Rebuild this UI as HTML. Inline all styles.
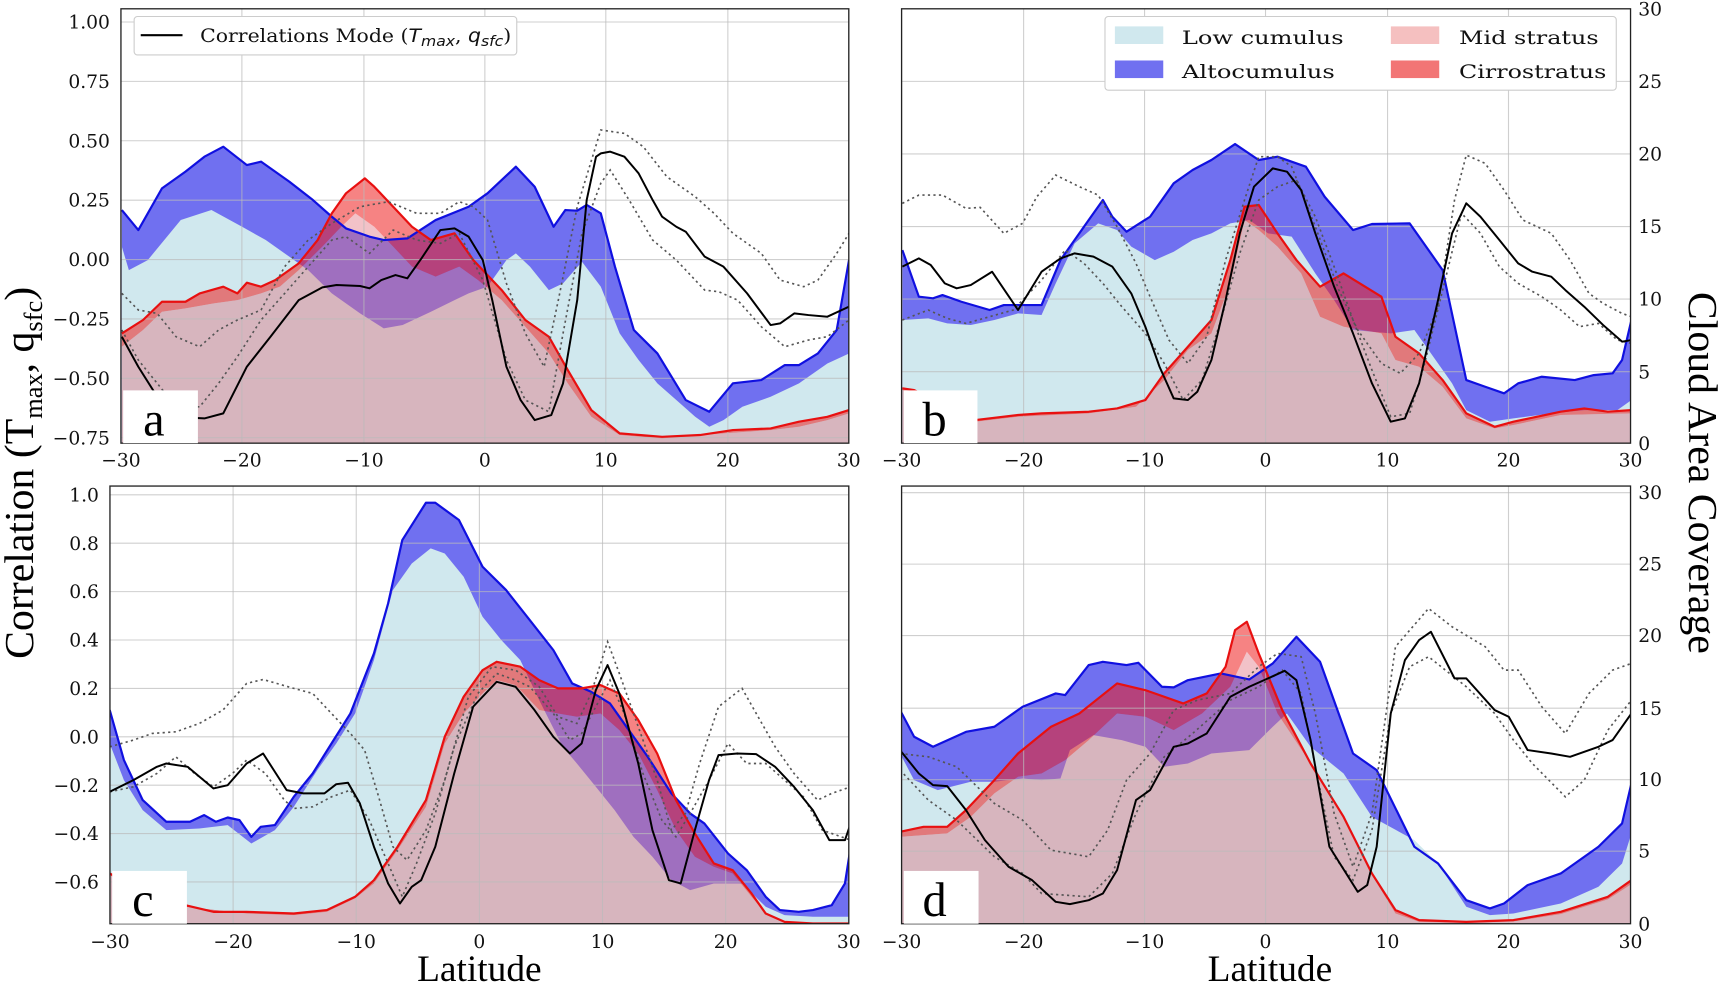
<!DOCTYPE html>
<html><head><meta charset="utf-8"><style>
html,body{margin:0;padding:0;background:#fff;}
svg{display:block;}
.t{font-family:"DejaVu Serif","Liberation Serif",serif;font-size:17px;fill:#111;}
.s{font-family:"Liberation Serif","DejaVu Serif",serif;fill:#000;}
</style></head><body>
<svg id="sv" width="1724" height="982" viewBox="0 0 1568 893" preserveAspectRatio="none" xmlns="http://www.w3.org/2000/svg">
<g id="plots"></g>
<g class="t" text-anchor="end">
<text x="100" y="26">1.00</text><text x="100" y="80">0.75</text><text x="100" y="134">0.50</text><text x="100" y="188">0.25</text><text x="100" y="242">0.00</text><text x="100" y="296">−0.25</text><text x="100" y="350">−0.50</text><text x="100" y="404">−0.75</text>
<text x="90" y="456">1.0</text><text x="90" y="500">0.8</text><text x="90" y="544">0.6</text><text x="90" y="588">0.4</text><text x="90" y="632">0.2</text><text x="90" y="676">0.0</text><text x="90" y="720">−0.2</text><text x="90" y="764">−0.4</text><text x="90" y="808">−0.6</text>
</g>
<g class="t" text-anchor="start">
<text x="1490" y="14">30</text><text x="1490" y="80">25</text><text x="1490" y="146">20</text><text x="1490" y="212">15</text><text x="1490" y="278">10</text><text x="1490" y="344">5</text><text x="1490" y="409">0</text>
<text x="1490" y="454">30</text><text x="1490" y="519">25</text><text x="1490" y="584">20</text><text x="1490" y="650">15</text><text x="1490" y="715">10</text><text x="1490" y="780">5</text><text x="1490" y="846">0</text>
</g>
<g class="t" text-anchor="middle">
<text x="110" y="424">−30</text><text x="220" y="424">−20</text><text x="331" y="424">−10</text><text x="441" y="424">0</text><text x="551" y="424">10</text><text x="662" y="424">20</text><text x="772" y="424">30</text>
<text x="820" y="424">−30</text><text x="931" y="424">−20</text><text x="1041" y="424">−10</text><text x="1151" y="424">0</text><text x="1262" y="424">10</text><text x="1372" y="424">20</text><text x="1483" y="424">30</text>
<text x="100" y="862">−30</text><text x="212" y="862">−20</text><text x="324" y="862">−10</text><text x="436" y="862">0</text><text x="548" y="862">10</text><text x="660" y="862">20</text><text x="772" y="862">30</text>
<text x="820" y="862">−30</text><text x="931" y="862">−20</text><text x="1041" y="862">−10</text><text x="1151" y="862">0</text><text x="1262" y="862">10</text><text x="1372" y="862">20</text><text x="1483" y="862">30</text>
</g>
<g class="s" font-size="44" text-anchor="middle">
<rect x="112" y="355" width="68" height="48" fill="#fff"/><text x="140" y="396">a</text>
<rect x="822" y="355" width="67" height="48" fill="#fff"/><text x="850" y="396">b</text>
<rect x="102" y="792" width="68" height="48" fill="#fff"/><text x="130" y="833">c</text>
<rect x="822" y="792" width="68" height="48" fill="#fff"/><text x="850" y="833">d</text>
</g>
<text class="s" font-size="34" text-anchor="middle" x="436" y="892">Latitude</text>
<text class="s" font-size="34" text-anchor="middle" x="1155" y="892">Latitude</text>
<text class="s" font-size="38" text-anchor="middle" transform="translate(30,430) rotate(-90)">Correlation (T<tspan font-size="24" dy="8">max</tspan><tspan dy="-8">, q</tspan><tspan font-size="24" dy="8">sfc</tspan><tspan dy="-8">)</tspan></text>
<text class="s" font-size="38" text-anchor="middle" transform="translate(1536,430) rotate(90)">Cloud Area Coverage</text>
<rect x="122" y="15" width="348" height="35" rx="3" fill="#fff" stroke="#ccc"/>
<line x1="128" y1="32" x2="166" y2="32" stroke="#000" stroke-width="2"/>
<text class="t" font-size="19" x="182" y="38" textLength="283" lengthAdjust="spacingAndGlyphs">Correlations Mode (<tspan font-style="italic" font-family="DejaVu Sans,sans-serif">T</tspan><tspan font-style="italic" font-size="13" dy="4" font-family="DejaVu Sans,sans-serif">max</tspan><tspan dy="-4">, </tspan><tspan font-style="italic" font-family="DejaVu Sans,sans-serif">q</tspan><tspan font-style="italic" font-size="13" dy="4" font-family="DejaVu Sans,sans-serif">sfc</tspan><tspan dy="-4">)</tspan></text>
<rect x="1005" y="15" width="465" height="67" rx="3" fill="#fff" stroke="#ccc"/>
<rect x="1014" y="24" width="44" height="16" fill="#d0e8ee"/>
<rect x="1014" y="55" width="44" height="16" fill="#7070f0"/>
<rect x="1265" y="24" width="44" height="16" fill="#f5c0c0"/>
<rect x="1265" y="55" width="44" height="16" fill="#f27575"/>
<g class="t" font-size="23"><text x="1075" y="40" textLength="147" lengthAdjust="spacingAndGlyphs">Low cumulus</text><text x="1075" y="71" textLength="139" lengthAdjust="spacingAndGlyphs">Altocumulus</text><text x="1327" y="40" textLength="127" lengthAdjust="spacingAndGlyphs">Mid stratus</text><text x="1327" y="71" textLength="134" lengthAdjust="spacingAndGlyphs">Cirrostratus</text></g>
</svg>
<script>
const panels=[
{cx:110,cy:0,x0:110,x1:772,y0:8,y1:403,vx:[110,220,331,441,551,662,772],hy:[20,74,128,182,236,290,344,398],
alto:"25:630 60:690 110:565 160:515 200:470 240:440 290:495 320:485 380:545 430:600 470:650 500:685 550:710 580:720 630:715 690:660 760:620 800:580 860:500 900:560 940:680 965:630 990:632 1010:615 1040:640 1070:800 1110:990 1160:1060 1220:1200 1270:1235 1320:1150 1380:1140 1430:1095 1460:1095 1500:1060 1540:990 1566:780",
low:"25:740 40:810 80:780 150:660 215:630 280:680 330:720 380:770 420:810 470:880 530:940 580:985 620:975 680:935 730:900 760:880 800:860 840:780 860:760 890:800 930:870 960:850 1000:785 1040:860 1080:1000 1120:1080 1160:1150 1200:1200 1240:1250 1270:1280 1300:1260 1340:1220 1400:1190 1460:1150 1520:1090 1566:1060",
cir:"25:1000 70:960 110:905 160:905 190:880 240:860 270:880 290:848 320:860 350:840 400:790 440:720 470:640 500:580 540:535 560:560 600:620 640:680 680:720 730:700 770:780 830:870 880:960 930:1010 970:1110 1020:1230 1080:1300 1170:1310 1250:1305 1320:1290 1400:1285 1460:1265 1520:1250 1566:1230",
mid:"25:1040 70:990 110:935 160:925 220:910 270:900 320:880 360:860 400:810 450:740 490:680 520:640 560:680 600:740 640:800 690:830 740:800 780:840 830:900 880:980 930:1060 970:1150 1020:1250 1080:1305 1170:1315 1300:1300 1400:1290 1460:1280 1520:1260 1566:1240",
sol:"25:1010 60:1100 100:1190 130:1250 200:1255 240:1240 290:1100 340:1010 400:900 450:862 480:855 530:858 550:865 575:840 605:825 630:835 660:775 700:690 730:685 760:710 790:780 810:900 840:1100 870:1200 900:1260 935:1245 960:1150 990:900 1010:600 1030:470 1040:460 1060:455 1090:470 1120:520 1150:600 1170:650 1200:680 1220:695 1260:770 1300:800 1350:880 1400:975 1420:970 1450:940 1480:945 1520:950 1566:920",
d1:"25:880 60:930 100:940 140:1010 190:1040 230:990 270:960 320:930 370:800 420:720 470:670 530:620 590:605 650:640 700:640 740:605 770:620 800:660 840:850 880:1000 920:1100 950:900 990:620 1040:390 1090:400 1130:440 1180:530 1240:590 1280:640 1320:700 1380:760 1420:840 1470:860 1500:840 1540:760 1566:700",
d2:"25:990 60:1080 100:1150 140:1220 190:1220 230:1150 270:1070 320:960 370:880 420:800 470:720 500:710 550:760 600:690 650:720 700:730 740:700 790:840 840:1080 880:1200 930:1235 960:1000 1000:700 1040:550 1060:510 1100:600 1150:720 1200:780 1260:870 1290:875 1330:900 1380:980 1430:1040 1480:1020 1520:1010 1566:960"},
{cx:900,cy:0,x0:820,x1:1483,y0:8,y1:403,vx:[820,931,1041,1151,1262,1372,1483],hy:[74,140,206,272,338],
alto:"5:750 40:890 70:895 90:885 130:905 190:930 220:915 300:915 340:780 400:660 430:600 450:650 480:695 530:650 580:550 620:510 660:480 710:432 760:480 800:470 860:500 900:590 960:690 1000:672 1080:670 1150:810 1200:1140 1240:1160 1280:1180 1310:1150 1360:1130 1430:1140 1470:1125 1510:1120 1530:1080 1550:960",
low:"5:960 60:955 100:970 150:975 200:960 250:940 300:945 330:850 370:730 420:670 460:690 490:740 540:780 580:755 620:720 660:700 700:670 740:660 780:700 830:710 880:820 920:900 960:990 1040:1000 1090:990 1120:1050 1170:1150 1200:1230 1250:1265 1300:1255 1380:1240 1450:1230 1520:1230 1550:1200",
cir:"5:1165 30:1170 160:1260 250:1245 300:1240 400:1235 460:1225 520:1200 560:1120 610:1040 660:960 700:780 730:620 760:615 800:700 840:780 890:860 940:820 1020:890 1050:1010 1100:1060 1150:1140 1200:1240 1260:1280 1300:1265 1400:1235 1450:1225 1500:1235 1550:1230",
mid:"5:1170 160:1265 250:1250 400:1240 500:1220 560:1140 610:1050 660:1000 700:850 730:660 760:690 800:740 850:820 890:950 940:980 1020:1000 1050:1080 1100:1100 1150:1160 1200:1255 1260:1285 1300:1275 1400:1245 1550:1240",
sol:"5:800 40:775 65:795 95:850 120:865 150:855 195:815 250:930 300:815 340:775 370:760 410:770 450:800 490:880 520:980 550:1100 580:1195 610:1200 630:1175 660:1080 690:900 720:700 750:560 790:505 820:515 850:570 880:700 920:860 960:1000 1000:1150 1040:1265 1070:1255 1100:1150 1140:900 1170:700 1200:610 1230:650 1270:720 1310:790 1340:815 1380:830 1410:870 1450:920 1490:975 1530:1025 1550:1020",
d1:"5:610 40:585 90:585 140:625 170:622 220:700 260:670 290:590 330:525 380:560 420:585 460:680 500:790 530:890 570:1020 610:1090 650:1010 690:780 730:600 760:470 800:470 830:500 880:680 930:870 970:990 1020:1090 1060:1120 1100:1060 1140:920 1175:600 1200:465 1240:490 1280:570 1320:660 1380:700 1420:780 1460:880 1490:910 1530:940 1550:950",
d2:"5:960 60:930 100:955 140:970 190:950 240:930 300:840 350:750 390:790 430:850 470:920 520:1000 560:1090 600:1200 640:1140 680:960 720:760 760:600 800:560 840:540 880:650 920:800 960:960 1000:1110 1040:1250 1080:1240 1110:1100 1150:870 1190:640 1230:700 1270:800 1310:850 1360:890 1400:930 1440:980 1480:970 1520:1020 1550:1030"},
{cx:105,cy:480,x0:100,x1:772,y0:442,y1:840,vx:[100,212,324,436,548,660,772],hy:[450,494,538,582,626,670,714,758,802],
alto:"10:690 40:840 80:960 130:1025 180:1025 210:1005 235:1025 260:1012 285:1020 310:1070 330:1040 360:1035 400:950 440:880 480:790 520:700 570:520 600:370 630:180 680:68 700:68 750:120 800:260 850:330 900:420 950:510 990:610 1030:635 1070:670 1110:750 1150:830 1200:940 1240:1000 1270:1030 1320:1120 1360:1170 1400:1250 1430:1290 1470:1295 1500:1290 1540:1275 1568:1210 1580:1100",
low:"10:790 40:900 80:990 130:1050 200:1045 260:1035 310:1090 360:1050 400:980 450:870 490:790 530:700 570:540 610:330 650:250 690:205 720:220 760:290 800:410 840:480 880:540 920:660 970:800 1000:850 1040:920 1080:990 1120:1070 1160:1130 1200:1200 1240:1230 1290:1210 1350:1210 1400:1280 1440:1305 1500:1310 1580:1310",
cir:"10:1180 100:1250 170:1275 230:1295 300:1295 400:1300 470:1290 530:1250 570:1200 620:1100 680:960 720:770 760:650 800:570 830:545 880:560 920:600 960:625 1010:625 1050:615 1090:640 1130:720 1170:820 1210:960 1250:1060 1290:1150 1330:1170 1370:1240 1400:1300 1440:1325 1500:1330 1580:1330",
mid:"10:1185 100:1255 170:1280 300:1300 400:1305 470:1295 530:1255 570:1210 620:1110 680:980 720:790 760:700 800:640 830:600 870:615 920:690 960:700 1000:710 1050:700 1090:750 1130:820 1170:930 1210:1050 1250:1130 1290:1160 1330:1180 1370:1250 1400:1300 1440:1328 1580:1332",
sol:"10:935 60:900 110:860 130:850 175:860 230:925 260:915 300:850 335:820 385:930 420:940 465:940 490:912 515:908 540:970 570:1100 600:1210 625:1270 650:1220 670:1200 700:1100 740:880 780:680 830:605 870:620 910:690 950:770 985:820 1010:790 1040:630 1065:555 1090:640 1130:850 1160:1050 1195:1200 1220:1210 1250:1050 1280:900 1300:825 1340:820 1380:822 1420:860 1460:920 1500:990 1535:1080 1568:1080 1580:1030",
d1:"10:800 60:780 100:760 150:755 200:730 250:690 300:610 335:598 400:625 440:640 480:700 520:760 550:810 580:950 610:1100 640:1140 680:1050 720:900 770:650 820:560 870:570 920:620 960:710 1000:730 1030:640 1065:485 1090:580 1130:740 1170:900 1200:1050 1230:1000 1260:850 1300:680 1350:625 1380:700 1420:800 1460:880 1510:960 1540:940 1580:920",
d2:"10:935 60:920 110:880 150:830 190:880 230:920 270:880 300:840 340:880 380:960 400:985 440:980 480:950 520:930 560:1020 600:1150 630:1250 660:1150 700:1000 740:800 790:640 830:580 870:600 900:620 950:700 985:780 1010:760 1040:680 1070:600 1100:700 1140:880 1180:1020 1210:1070 1240:1000 1280:900 1320:790 1360:850 1400:850 1440:900 1480:950 1520:1050 1580:1080"},
{cx:900,cy:480,x0:820,x1:1483,y0:442,y1:840,vx:[820,931,1041,1151,1262,1372,1483],hy:[448,513,578,644,709,774],
alto:"0:690 30:770 70:800 140:755 200:740 260:680 330:640 350:645 400:555 430:545 480:555 505:548 555:620 580:622 610:600 680:580 740:598 790:550 840:470 890:545 960:820 1010:870 1090:1100 1140:1150 1200:1260 1250:1285 1280:1270 1330:1215 1400:1180 1480:1100 1530:1030 1550:910",
low:"0:820 30:900 80:930 150:905 200:905 260:895 300:900 340:895 360:810 410:765 470:780 520:800 560:860 610:850 660:820 740:810 790:740 820:700 870:800 940:880 1000:1010 1090:1080 1140:1150 1200:1280 1250:1305 1300:1300 1400:1270 1480:1220 1530:1150 1550:1060",
cir:"0:1055 50:1040 100:1040 140:990 200:900 250:820 320:740 380:700 460:610 520:630 600:670 650:640 690:560 710:450 735:425 760:520 810:690 870:850 940:1010 1000:1180 1050:1290 1100:1320 1200:1325 1300:1320 1400:1295 1500:1250 1550:1200",
mid:"0:1070 100:1060 150:1010 200:940 250:890 300:880 350:840 400:780 460:700 520:710 580:750 640:700 700:620 735:515 760:560 800:700 870:850 940:1010 1000:1185 1050:1300 1100:1325 1200:1328 1300:1324 1400:1302 1500:1258 1550:1212",
sol:"0:810 40:880 70:915 100:918 140:990 180:1080 230:1160 280:1200 330:1265 360:1272 400:1260 430:1240 460:1170 500:960 530:930 580:800 610:790 650:760 700:650 740:620 780:595 815:572 840:600 870:780 910:1100 970:1235 990:1215 1010:1100 1040:700 1070:540 1100:480 1125:455 1175:595 1200:595 1260:690 1290:710 1330:810 1380:820 1420:830 1480:800 1510:780 1550:700",
d1:"0:820 60:830 120:860 200:970 260:1020 320:1110 400:1130 440:1050 480:900 530:820 580:690 630:660 700:640 760:560 800:520 850:530 880:700 920:1000 960:1160 1000:1000 1050:500 1120:385 1170:440 1240:500 1280:570 1310:570 1360:680 1410:760 1460:640 1510:570 1550:550",
d2:"0:870 60:960 120:1020 200:1130 260:1180 300:1240 400:1250 450:1180 500:1000 560:830 620:760 700:660 760:620 810:570 850:640 880:860 920:1130 960:1200 1000:1050 1040:700 1080:560 1120:530 1200:620 1260:700 1300:780 1340:850 1410:950 1450:900 1500:750 1550:660"}
];
let h='';
panels.forEach((p,i)=>{
 const P=s=>s.trim().split(/\s+/).map(q=>{const [X,Y]=q.split(':').map(Number);return [((p.cx+X/2.119)/1.0995).toFixed(1),((p.cy+Y/3)/1.0995).toFixed(1)];});
 const pts=a=>a.map(q=>q[0]+','+q[1]).join(' ');
 const A=P(p.alto),L=P(p.low),C=P(p.cir),M=P(p.mid);
 const fill=(a,c)=>`<polygon points="${a[0][0]},${p.y1+2} ${pts(a)} ${a[a.length-1][0]},${p.y1+2}" fill="${c}"/>`;
 h+=`<clipPath id="c${i}"><rect x="${p.x0}" y="${p.y0}" width="${p.x1-p.x0}" height="${p.y1-p.y0}"/></clipPath><g clip-path="url(#c${i})">`;
 h+=fill(A,'#7070f0')+fill(L,'#d0e8ee');
 h+=`<polygon points="${pts(C)} ${pts(M.slice().reverse())}" fill="rgba(238,30,30,0.55)"/>`;
 h+=fill(M,'rgba(225,110,125,0.42)');
 p.vx.forEach(x=>h+=`<line x1="${x}" y1="${p.y0}" x2="${x}" y2="${p.y1}" stroke="#bbb" stroke-opacity="0.7" stroke-width="1"/>`);
 p.hy.forEach(y=>h+=`<line x1="${p.x0}" y1="${y}" x2="${p.x1}" y2="${y}" stroke="#bbb" stroke-opacity="0.7" stroke-width="1"/>`);
 h+=`<polyline points="${pts(A)}" fill="none" stroke="#1010e0" stroke-width="2" stroke-linejoin="round"/>`;
 h+=`<polyline points="${pts(C)}" fill="none" stroke="#e81010" stroke-width="2" stroke-linejoin="round"/>`;
 h+=`<polyline points="${pts(P(p.d1))}" fill="none" stroke="#555" stroke-width="1.5" stroke-dasharray="2,3"/>`;
 h+=`<polyline points="${pts(P(p.d2))}" fill="none" stroke="#555" stroke-width="1.5" stroke-dasharray="2,3"/>`;
 h+=`<polyline points="${pts(P(p.sol))}" fill="none" stroke="#000" stroke-width="1.8" stroke-linejoin="round"/>`;
 h+=`</g><rect x="${p.x0}" y="${p.y0}" width="${p.x1-p.x0}" height="${p.y1-p.y0}" fill="none" stroke="#222" stroke-width="1.2"/>`;
});
document.getElementById('plots').innerHTML=h;
</script>
</body></html>
